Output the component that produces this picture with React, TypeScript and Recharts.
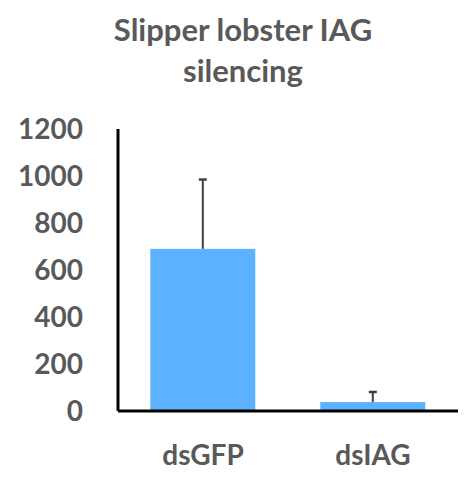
import React from 'react';
import { BarChart, Bar, XAxis, YAxis } from 'recharts';

const groups = ['dsGFP', 'dsIAG'];
const means = [690, 38];
const upperErrors = [295, 43];
const yTicks = [0, 200, 400, 600, 800, 1000, 1200];

const data = groups.map((name, i) => ({
    name,
    value: means[i],
    err: upperErrors[i],
}));

const gray = '#595959';
const fontFamily = 'Lato, "Open Sans", sans-serif';

// bar plus an upper-only error whisker (Excel "plus" direction)
function BarWithError(props: any) {
    const { x, y, width, height, payload, fill } = props;
    const perUnit = payload.value ? height / payload.value : 0;
    const top = y - payload.err * perUnit;
    const cx = x + width / 2;
    return (
        <g>
            <rect x={x} y={y} width={width} height={height} fill={fill} />
            <line x1={cx} x2={cx} y1={y} y2={top} stroke="#404040" strokeWidth={2} />
            <line x1={cx - 4} x2={cx + 4} y1={top} y2={top} stroke="#404040" strokeWidth={2.5} />
        </g>
    );
}

export default function App() {
    return (
        <div style={{ position: 'absolute', left: 0, top: 0, width: 474, height: 478, background: '#fff' }}>
            <div
                style={{
                    position: 'absolute',
                    left: 0,
                    top: 9,
                    width: 486,
                    textAlign: 'center',
                    fontFamily,
                    fontWeight: 700,
                    fontSize: 31,
                    lineHeight: '41px',
                    color: gray,
                }}
            >
                Slipper lobster IAG
                <br />
                silencing
            </div>
            <BarChart
                width={474}
                height={478}
                data={data}
                margin={{ top: 129, right: 16, bottom: 0, left: 0 }}
                barCategoryGap="19%"
            >
                <XAxis
                    dataKey="name"
                    height={67}
                    axisLine={{ stroke: '#000', strokeWidth: 3 }}
                    tickLine={false}
                    tickSize={0}
                    tickMargin={34}
                    tick={{ fill: gray, fontSize: 28, fontWeight: 700, fontFamily }}
                />
                <YAxis
                    width={118}
                    domain={[0, 1200]}
                    ticks={yTicks}
                    interval={0}
                    axisLine={{ stroke: '#000', strokeWidth: 3 }}
                    tickLine={false}
                    tickSize={0}
                    tickMargin={35}
                    tick={{ fill: gray, fontSize: 28, fontWeight: 700, fontFamily }}
                />
                <Bar dataKey="value" fill="#5DB2FF" isAnimationActive={false} shape={BarWithError} />
            </BarChart>
        </div>
    );
}
